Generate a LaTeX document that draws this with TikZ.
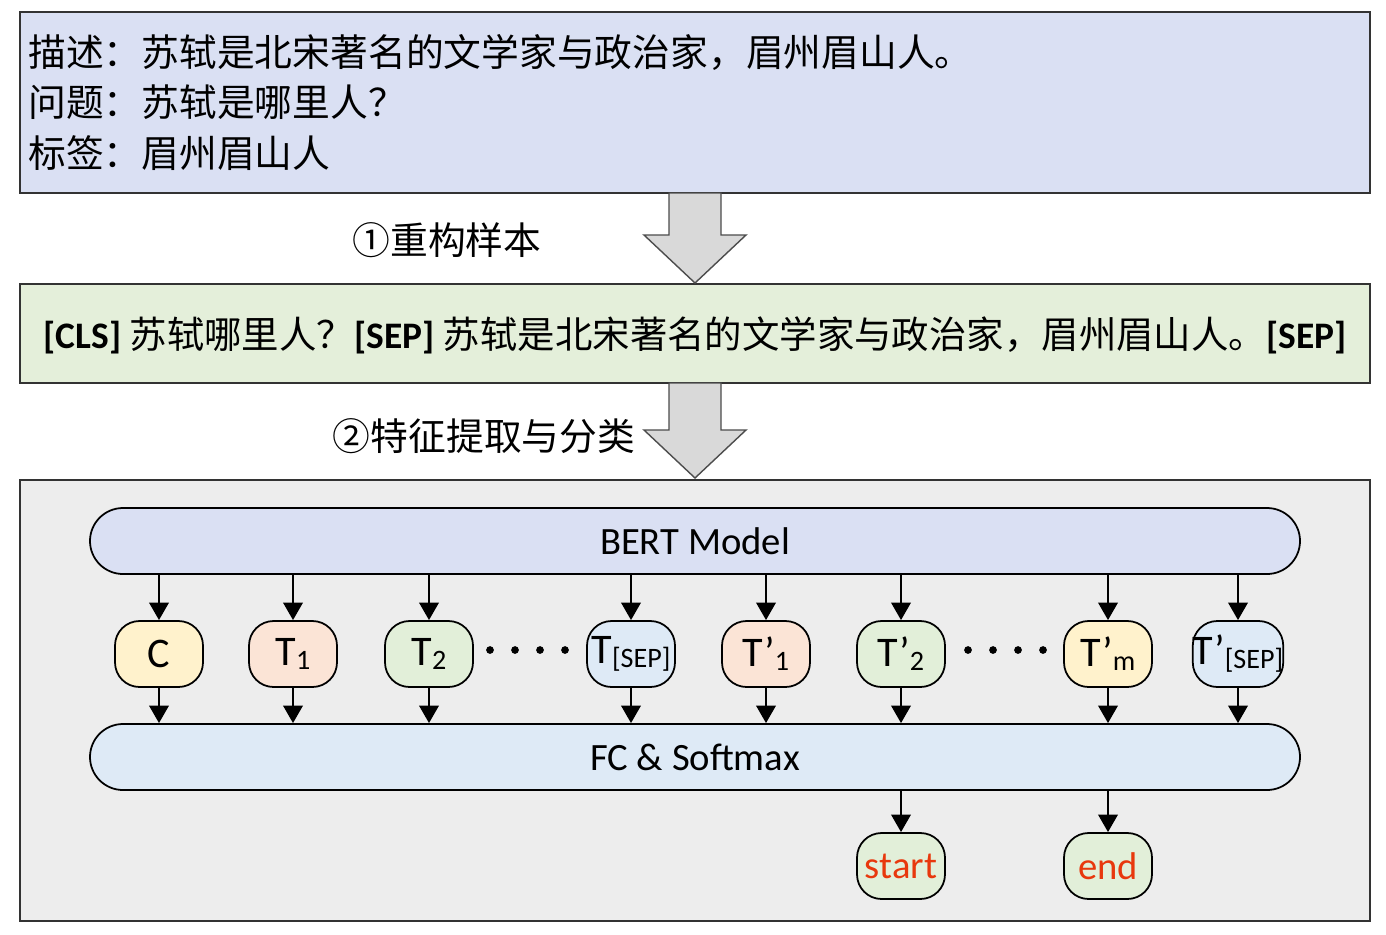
\documentclass[tikz,border=0pt]{standalone}
\usepackage{fontspec}
\setmainfont{Carlito}
\newfontfamily\cjk{Noto Sans CJK SC}
\usetikzlibrary{arrows.meta,positioning}
\definecolor{lav}{HTML}{DAE0F3}
\definecolor{pale}{HTML}{E4EFDA}
\definecolor{bg}{HTML}{EDEDED}
\definecolor{cyel}{HTML}{FFF2CC}
\definecolor{corg}{HTML}{FBE4D6}
\definecolor{cgrn}{HTML}{E2EFD9}
\definecolor{cblu}{HTML}{DEEAF6}
\definecolor{cred}{HTML}{E8380D}
\newcommand{\tsub}[1]{\raisebox{-0.2ex}{\fontsize{16}{18}\selectfont #1}}
\begin{document}
\begin{tikzpicture}[x=0.02cm,y=-0.02cm,
    box/.style={draw=black!80,line width=1pt},
    tok/.style={draw=black,line width=1pt,rounded corners=14pt,minimum width=88*0.02cm,
      minimum height=66*0.02cm,inner sep=0pt,font=\fontsize{24}{26}\selectfont},
    bar/.style={draw=black,line width=1pt,rounded corners=33*0.02cm,minimum width=1210*0.02cm,
      minimum height=66*0.02cm,font=\fontsize{22}{26}\selectfont},
    arr/.style={-{Triangle[length=10pt,width=11pt]},line width=1.6pt},
    blk/.style={draw=black!70,fill=black!15,line width=0.8pt},
    lbl/.style={font=\cjk\fontsize{21.5}{24}\selectfont}]
  \useasboundingbox (0,0) rectangle (1386,934);
  \fill[white] (0,0) rectangle (1386,934);
  % input sample
  \draw[box,fill=lav] (20,12) rectangle (1370,193);
  \node[lbl,anchor=west,inner sep=0pt] (desc) at (28,52) {描述：苏轼是北宋著名的文学家与政治家，眉州眉山人。};
  \node[lbl,anchor=west,inner sep=0pt] (ques) at (28,102) {问题：苏轼是哪里人？};
  \node[lbl,anchor=west,inner sep=0pt] (tag) at (28,153) {标签：眉州眉山人};
  % rebuilt sample
  \draw[box,fill=pale] (20,284) rectangle (1370,383);
  \node[font=\fontsize{21.3}{24}\selectfont] (seq) at (695,335)
    {\textbf{[CLS]} {\cjk 苏轼哪里人？}\textbf{[SEP]} {\cjk 苏轼是北宋著名的文学家与政治家，眉州眉山人。}\textbf{[SEP]}};
  % block arrows
  \foreach \ya/\yb in {193/283,383/478}{
    \draw[blk] (669,\ya) -- (721,\ya) -- (721,\yb-48) -- (746,\yb-48) -- (695,\yb)
      -- (644,\yb-48) -- (669,\yb-48) -- cycle;
  }
  \node[lbl] (step1) at (447,240) {①重构样本};
  \node[lbl] (step2) at (484,436) {②特征提取与分类};
  % model
  \draw[box,fill=bg] (20,480) rectangle (1370,921);
  \node[bar,fill=lav] (bert) at (695,541) {BERT Model};
  \node[bar,fill=cblu] (fc) at (695,757) {FC \& Softmax};
  \node[tok,fill=cyel] (c) at (159,654) {C};
  \node[tok,fill=corg] (t1) at (293,654) {T\tsub{1}};
  \node[tok,fill=cgrn] (t2) at (429,654) {T\tsub{2}};
  \node[tok,fill=cblu] (ts) at (631,654) {T\tsub{[SEP]}};
  \node[tok,fill=corg] (u1) at (766,654) {T’\tsub{1}};
  \node[tok,fill=cgrn] (u2) at (901,654) {T’\tsub{2}};
  \node[tok,fill=cyel] (um) at (1108,654) {T’\tsub{m}};
  \node[tok,fill=cblu] (us) at (1238,654) {T’\tsub{[SEP]}};
  \node[tok,fill=cgrn,text=cred,font=\fontsize{22}{24}\selectfont] (start) at (901,866) {start};
  \node[tok,fill=cgrn,text=cred,font=\fontsize{22}{24}\selectfont] (end) at (1108,866) {end};
  \foreach \k in {0,...,3}{
    \fill (490+25*\k,650) circle (2.2pt);
    \fill (968+25*\k,650) circle (2.2pt);
  }
  \foreach \n in {c,t1,t2,ts,u1,u2,um,us}{
    \draw[arr] (bert.south -| \n) -- (\n);
    \draw[arr] (\n) -- (fc.north -| \n);
  }
  \draw[arr] (fc.south -| start) -- (start);
  \draw[arr] (fc.south -| end) -- (end);
\end{tikzpicture}
\end{document}
